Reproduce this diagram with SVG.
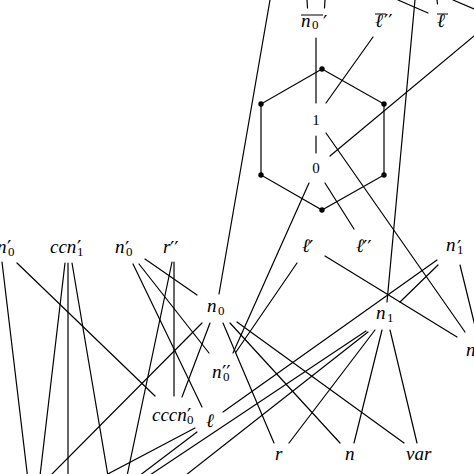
<svg xmlns="http://www.w3.org/2000/svg" width="474" height="474" viewBox="0 0 474 474">
<style>
.c line, .c polyline { stroke:#000; stroke-width:1.2; fill:none; stroke-linecap:round; }
.m { font-family:"Liberation Serif","DejaVu Serif",serif; font-style:italic; font-size:19px; fill:#000; }
.s { font-family:"Liberation Serif","DejaVu Serif",serif; font-size:13px; fill:#000; }
.p { font-family:"DejaVu Sans","Liberation Sans",sans-serif; font-size:19px; fill:#000; }
.d { font-family:"Liberation Serif","DejaVu Serif",serif; font-size:15px; fill:#000; text-anchor:middle; }
.ov { stroke:#000; stroke-width:1; }
.dot { fill:#000; }
</style>
<rect width="474" height="474" fill="#fff"/>
<g id="connectors" class="c">
  <polyline points="322,69 384,104 384,175 322,210 261,175 261,104 322,69"/>
  <line x1="398" y1="0" x2="428" y2="13"/>
  <line x1="453" y1="0" x2="474" y2="9"/>
  <line x1="307" y1="0" x2="307.5" y2="8"/>
  <line x1="325" y1="0" x2="324.5" y2="8"/>
  <line x1="437" y1="0" x2="437.5" y2="4"/>
  <line x1="316" y1="38" x2="316" y2="103"/>
  <line x1="316" y1="136" x2="316" y2="153"/>
  <line x1="373" y1="37" x2="326" y2="103"/>
  <line x1="480" y1="31" x2="330" y2="156"/>
  <line x1="326" y1="133" x2="465" y2="332"/>
  <line x1="309" y1="183" x2="233" y2="353"/>
  <line x1="325" y1="183" x2="354" y2="229"/>
  <line x1="270" y1="0" x2="219" y2="294"/>
  <line x1="415" y1="0" x2="387" y2="302"/>
  <line x1="297" y1="263" x2="236" y2="352"/>
  <line x1="325" y1="256" x2="457" y2="337"/>
  <line x1="460" y1="265" x2="476" y2="330"/>
  <line x1="400" y1="302" x2="438" y2="265"/>
  <line x1="223" y1="412" x2="437" y2="260"/>
  <line x1="375" y1="330" x2="289" y2="443"/>
  <line x1="382" y1="330" x2="354" y2="443"/>
  <line x1="390" y1="330" x2="417" y2="443"/>
  <line x1="366" y1="331" x2="150" y2="475"/>
  <line x1="368" y1="332" x2="186" y2="475"/>
  <line x1="145" y1="259" x2="197" y2="295"/>
  <line x1="202" y1="323" x2="50" y2="476"/>
  <line x1="210" y1="323" x2="182" y2="397"/>
  <line x1="223" y1="323" x2="274" y2="443"/>
  <line x1="230" y1="323" x2="340" y2="443"/>
  <line x1="237" y1="322" x2="404" y2="443"/>
  <line x1="133" y1="264" x2="202" y2="407"/>
  <line x1="139" y1="264" x2="209" y2="353"/>
  <line x1="172" y1="262" x2="127" y2="476"/>
  <line x1="174" y1="262" x2="174" y2="396"/>
  <line x1="2" y1="262" x2="27.5" y2="476"/>
  <line x1="17" y1="263" x2="155" y2="396"/>
  <line x1="65" y1="263" x2="40" y2="476"/>
  <line x1="68" y1="263" x2="68" y2="476"/>
  <line x1="72" y1="263" x2="108" y2="476"/>
  <line x1="195" y1="428" x2="104" y2="476"/>
  <line x1="197" y1="432" x2="139" y2="476"/>
</g>
<g id="hex-dots">
  <circle class="dot" cx="322" cy="69" r="2.7"/>
  <circle class="dot" cx="384" cy="104" r="2.7"/>
  <circle class="dot" cx="384" cy="175" r="2.7"/>
  <circle class="dot" cx="322" cy="210" r="2.7"/>
  <circle class="dot" cx="261" cy="175" r="2.7"/>
  <circle class="dot" cx="261" cy="104" r="2.7"/>
</g>
<g id="node-one"><text class="d" x="316" y="125">1</text></g>
<g id="node-zero"><text class="d" x="316" y="173">0</text></g>
<g id="node-bar-n0p">
  <line class="ov" x1="301" y1="15" x2="323" y2="15"/>
  <text class="m" x="301" y="27">n</text><text class="s" x="312" y="29">0</text><text class="p" x="323" y="29">′</text>
</g>
<g id="node-bar-lpp">
  <line class="ov" x1="375" y1="14" x2="386" y2="14"/>
  <text class="m" x="375" y="27">ℓ</text><text class="p" x="384" y="28">′′</text>
</g>
<g id="node-bar-l">
  <line class="ov" x1="437" y1="14" x2="448" y2="14"/>
  <text class="m" x="437" y="27">ℓ</text>
</g>
<g id="node-n0p-left">
  <text class="m" x="-3" y="253">n</text><text class="s" x="8" y="256">0</text><text class="p" x="7" y="254">′</text>
</g>
<g id="node-ccn1p">
  <text class="m" x="50" y="253">ccn</text><text class="s" x="77" y="256">1</text><text class="p" x="77" y="254">′</text>
</g>
<g id="node-n0p">
  <text class="m" x="115" y="253">n</text><text class="s" x="126" y="256">0</text><text class="p" x="125" y="255">′</text>
</g>
<g id="node-rpp">
  <text class="m" x="163" y="253">r</text><text class="p" x="170" y="255">′′</text>
</g>
<g id="node-n0">
  <text class="m" x="207" y="312">n</text><text class="s" x="218" y="315">0</text>
</g>
<g id="node-n0pp">
  <text class="m" x="212" y="378">n</text><text class="s" x="223" y="381">0</text><text class="p" x="222" y="379">′′</text>
</g>
<g id="node-cccn0p">
  <text class="m" x="152" y="421">cccn</text><text class="s" x="187" y="424">0</text><text class="p" x="187" y="422">′</text>
</g>
<g id="node-l"><text class="m" x="206" y="427">ℓ</text></g>
<g id="node-r"><text class="m" x="275" y="460">r</text></g>
<g id="node-n"><text class="m" x="345" y="460">n</text></g>
<g id="node-var"><text class="m" x="406" y="460">var</text></g>
<g id="node-n1">
  <text class="m" x="376" y="319">n</text><text class="s" x="387" y="322">1</text>
</g>
<g id="node-lp">
  <text class="m" x="302" y="252">ℓ</text><text class="p" x="309" y="254">′</text>
</g>
<g id="node-lpp">
  <text class="m" x="356" y="252">ℓ</text><text class="p" x="363" y="254">′′</text>
</g>
<g id="node-n1p">
  <text class="m" x="446" y="251">n</text><text class="s" x="457" y="254">1</text><text class="p" x="457" y="254">′</text>
</g>
<g id="node-right-cut"><text class="m" x="466" y="356">n</text></g>
</svg>
